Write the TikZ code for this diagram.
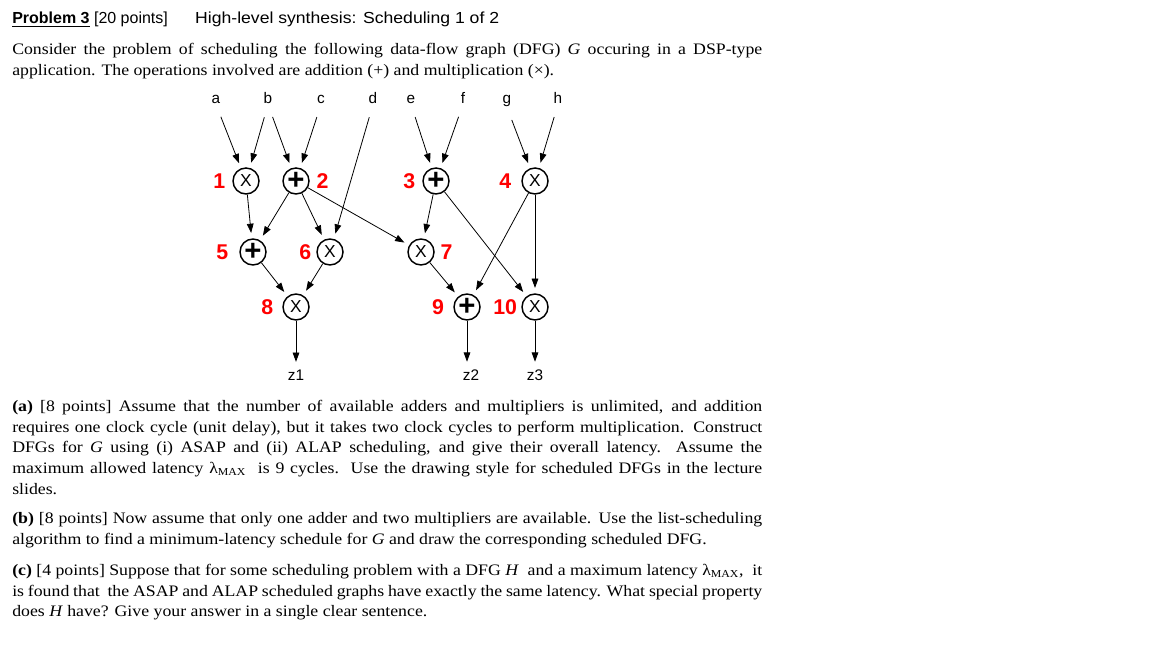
\documentclass[tikz,border=0pt]{standalone}
\usepackage{fontspec}
\setmainfont[FakeStretch=1.11]{Liberation Serif}
\setsansfont{Liberation Sans}
\newfontfamily\titlefont[FakeStretch=1.1]{Liberation Sans}
\usetikzlibrary{arrows.meta}
\definecolor{numred}{RGB}{255,0,0}

\begin{document}
\begin{tikzpicture}[x=0.75pt, y=-0.75pt, label distance=0pt,
    op/.style={circle, draw, line width=1.1pt, minimum size=19.5pt, inner sep=0pt, font=\sffamily\fontsize{13}{13}\selectfont},
    addop/.style={op, font=\sffamily\bfseries\fontsize{22}{22}\selectfont},
    oplbl/.style={text=numred, inner sep=0pt, font=\sffamily\bfseries\fontsize{16}{16}\selectfont},
    inlbl/.style={anchor=base, inner sep=0pt, font=\sffamily\fontsize{11.5}{11.5}\selectfont},
    flow/.style={-{Triangle[length=7pt, width=5pt]}, line width=0.6pt, shorten >=4pt},
    para/.style={anchor=north west, inner sep=0pt, text width=562.5pt, align=justify, font=\fontsize{12}{15.5}\selectfont}]
    \useasboundingbox (0,0) rectangle (1152,648);

    % Titel und Aufgabentext
    \node[anchor=base west, inner sep=0pt, font=\sffamily\fontsize{12}{14}\selectfont] (title) at (12,24)
        {\textbf{\underline{Problem 3}} [20 points]\hspace{20.5pt}{\titlefont High-level synthesis: Scheduling 1 of 2}};
    \node[para] (intro) at (12,43) {Consider the problem of scheduling the following data-flow graph (DFG) \textit{G} occuring in a DSP-type\linebreak application. The operations involved are addition (+) and multiplication (×).};

    % Eingaenge
    \node[inlbl] (a) at (216,104) {a};
    \node[inlbl] (b) at (268,104) {b};
    \node[inlbl] (c) at (321,104) {c};
    \node[inlbl] (d) at (373,104) {d};
    \node[inlbl] (e) at (411,104) {e};
    \node[inlbl] (f) at (463,104) {f};
    \node[inlbl] (g) at (507,104) {g};
    \node[inlbl] (h) at (558,104) {h};

    % Operationen
    \node[op, label={[oplbl, xshift=-5pt]left:1}] (n1) at (246,181) {X};
    \node[addop, label={[oplbl, xshift=5pt]right:2}] (n2) at (296,181) {+};
    \node[addop, label={[oplbl, xshift=-5pt]left:3}] (n3) at (436,181) {+};
    \node[op, label={[oplbl, xshift=-7.3pt]left:4}] (n4) at (535,181) {X};
    \node[addop, label={[oplbl, xshift=-8pt]left:5}] (n5) at (253,252) {+};
    \node[op, label={[oplbl, xshift=-3.5pt]left:6}] (n6) at (330,252) {X};
    \node[op, label={[oplbl, xshift=4.3pt]right:7}] (n7) at (421,252) {X};
    \node[op, label={[oplbl, xshift=-6.5pt]left:8}] (n8) at (296,307) {X};
    \node[addop, label={[oplbl, xshift=-6.8pt]left:9}] (n9) at (467,307) {+};
    \node[op, label={[oplbl, xshift=-3pt]left:10}] (n10) at (535,307) {X};

    % Ausgaenge
    \node[inlbl] (z1) at (296,380) {z1};
    \node[inlbl] (z2) at (471,380) {z2};
    \node[inlbl] (z3) at (535,380) {z3};

    % Kanten
    \draw[flow, shorten <=10pt] (a.south) -- (n1);
    \draw[flow, shorten <=10pt] (b.south) -- (n1);
    \draw[flow, shorten <=10pt] (b.south) -- (n2);
    \draw[flow, shorten <=10pt] (c.south) -- (n2);
    \draw[flow, shorten <=10pt] (d.south) -- (n6);
    \draw[flow, shorten <=10pt] (e.south) -- (n3);
    \draw[flow, shorten <=10pt] (f.south) -- (n3);
    \draw[flow, shorten <=10pt] (g.south) -- (n4);
    \draw[flow, shorten <=10pt] (h.south) -- (n4);
    \draw[flow] (n1) -- (n5);
    \draw[flow] (n2) -- (n5);
    \draw[flow] (n2) -- (n6);
    \draw[flow] (n2) -- (n7);
    \draw[flow] (n3) -- (n7);
    \draw[flow] (n3) -- (n10);
    \draw[flow] (n4) -- (n9);
    \draw[flow] (n4) -- (n10);
    \draw[flow] (n5) -- (n8);
    \draw[flow] (n6) -- (n8);
    \draw[flow] (n7) -- (n9);
    \draw[flow, shorten >=5.5pt] (n8) -- (n8 |- z1.north);
    \draw[flow, shorten >=5.5pt] (n9) -- (n9 |- z2.north);
    \draw[flow, shorten >=5.5pt] (n10) -- (n10 |- z3.north);

    % Teilaufgaben
    \node[para] (qa) at (12,400) {\textbf{(a)} [8 points] Assume that the number of available adders and multipliers is unlimited, and addition\linebreak requires one clock cycle (unit delay), but it takes two clock cycles to perform multiplication. Construct\linebreak DFGs for \textit{G} using (i) ASAP and (ii) ALAP scheduling, and give their overall latency. Assume the\linebreak maximum allowed latency λ\textsubscript{MAX}\ \ is 9 cycles.\ \ Use the drawing style for scheduled DFGs in the lecture\linebreak slides.};
    \node[para] (qb) at (12,512) {\textbf{(b)} [8 points] Now assume that only one adder and two multipliers are available. Use the list-scheduling\linebreak algorithm to find a minimum-latency schedule for \textit{G} and draw the corresponding scheduled DFG.};
    \node[para] (qc) at (12,564) {\textbf{(c)} [4 points] Suppose that for some scheduling problem with a DFG \textit{H}\ \ and a maximum latency λ\textsubscript{MAX},\ \ it\linebreak is found that\ \ the ASAP and ALAP scheduled graphs have exactly the same latency. What special property\linebreak does \textit{H} have? Give your answer in a single clear sentence.};
\end{tikzpicture}
\end{document}
